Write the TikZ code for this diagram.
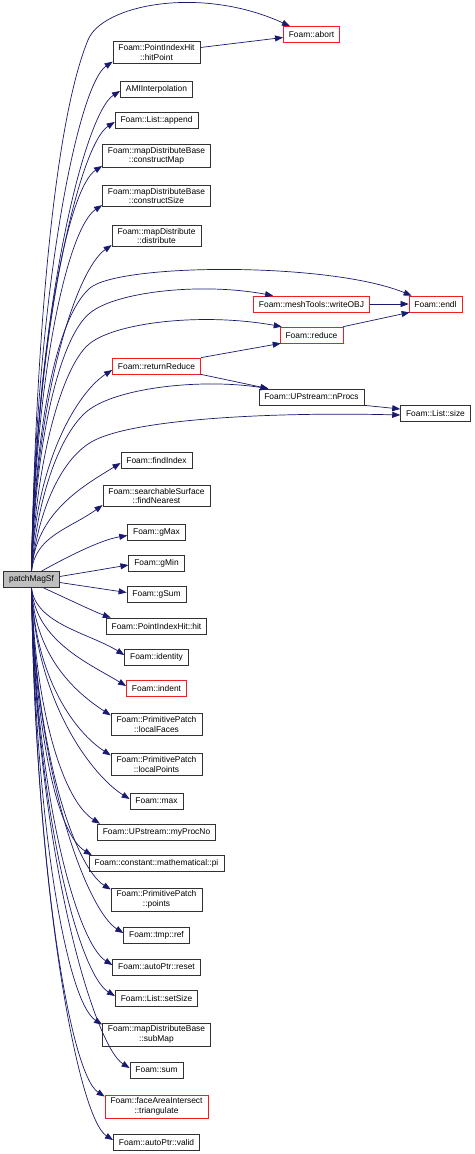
\documentclass[tikz,border=0pt]{standalone}
\usepackage{fontspec}
\setmainfont{Liberation Sans}
\usetikzlibrary{arrows.meta}
\definecolor{MB}{RGB}{25,25,112}
\definecolor{BR}{RGB}{240,30,30}
\definecolor{BK}{RGB}{50,50,50}
\definecolor{CG}{RGB}{191,191,191}

\begin{document}
\begin{tikzpicture}[
  x=1pt, y=-1pt,
  fn/.style={draw=#1, fill=white, line width=0.7pt,
             inner xsep=5.5pt, inner ysep=3pt, minimum height=16pt,
             align=center, font=\fontsize{8.4}{9.4}\selectfont},
  fn/.default=BK,
  arr/.style={-{Triangle[length=8pt,width=6pt]}, line width=0.7pt, draw=MB}
]
\useasboundingbox (0,0) rectangle (474,1154);

% Caller
\node[fn, fill=CG] (patch) at (31.5,579.5) {patchMagSf};

% Callees, first column
\node[fn]    (hitPoint)     at (156.5,52.5)  {Foam::PointIndexHit\\::hitPoint};
\node[fn]    (ami)          at (156.5,89)    {AMIInterpolation};
\node[fn]    (append)       at (156.5,120)   {Foam::List::append};
\node[fn]    (constructMap) at (156.5,156)   {Foam::mapDistributeBase\\::constructMap};
\node[fn]    (constructSize) at (156.5,196)  {Foam::mapDistributeBase\\::constructSize};
\node[fn]    (distribute)   at (156.5,236)   {Foam::mapDistribute\\::distribute};
\node[fn=BR] (returnReduce) at (156.5,366)   {Foam::returnReduce};
\node[fn]    (findIndex)    at (156.5,460)   {Foam::findIndex};
\node[fn]    (findNearest)  at (156.5,496)   {Foam::searchableSurface\\::findNearest};
\node[fn]    (gMax)         at (156.5,532.5) {Foam::gMax};
\node[fn]    (gMin)         at (156.5,563)   {Foam::gMin};
\node[fn]    (gSum)         at (156.5,594.5) {Foam::gSum};
\node[fn]    (hit)          at (156.5,626)   {Foam::PointIndexHit::hit};
\node[fn]    (identity)     at (156.5,657)   {Foam::identity};
\node[fn=BR] (indent)       at (156.5,688)   {Foam::indent};
\node[fn]    (localFaces)   at (156.5,724.5) {Foam::PrimitivePatch\\::localFaces};
\node[fn]    (localPoints)  at (156.5,764.5) {Foam::PrimitivePatch\\::localPoints};
\node[fn]    (max)          at (156.5,801)   {Foam::max};
\node[fn]    (myProcNo)     at (156.5,832)   {Foam::UPstream::myProcNo};
\node[fn]    (pi)           at (156.5,863.5) {Foam::constant::mathematical::pi};
\node[fn]    (points)       at (156.5,899.5) {Foam::PrimitivePatch\\::points};
\node[fn]    (ref)          at (156.5,935)   {Foam::tmp::ref};
\node[fn]    (reset)        at (156.5,967)   {Foam::autoPtr::reset};
\node[fn]    (setSize)      at (156.5,998)   {Foam::List::setSize};
\node[fn]    (subMap)       at (156.5,1034.5) {Foam::mapDistributeBase\\::subMap};
\node[fn]    (sum)          at (156.5,1070)  {Foam::sum};
\node[fn=BR] (triangulate)  at (156.5,1106.5) {Foam::faceAreaIntersect\\::triangulate};
\node[fn]    (valid)        at (156.5,1142)  {Foam::autoPtr::valid};

% Callees, further right
\node[fn=BR] (abort)    at (311.5,34.5) {Foam::abort};
\node[fn=BR] (writeOBJ) at (311.5,304)  {Foam::meshTools::writeOBJ};
\node[fn=BR] (reduce)   at (311.5,335)  {Foam::reduce};
\node[fn]    (nProcs)   at (311.5,397)  {Foam::UPstream::nProcs};
\node[fn=BR] (endl)     at (435.5,304)  {Foam::endl};
\node[fn]    (size)     at (435.5,413)  {Foam::List::size};

% Calls going up
\draw[arr] (patch.north) .. controls (36,330) and (55,120) .. (88,40)
  .. controls (102,5) and (200,-15) .. ([xshift=7pt]abort.north west);
\draw[arr] (patch.north) .. controls (35.5,292) and (78,85) .. ([yshift=2pt]hitPoint.south west);
\draw[arr] (patch.north) .. controls (35.5,307) and (85,113) .. ([yshift=-2pt]ami.west);
\draw[arr] (patch.north) .. controls (35.5,325) and (80,144) .. ([yshift=-2pt]append.west);
\draw[arr] (patch.north) .. controls (35.5,349) and (68,188) .. ([yshift=2pt]constructMap.south west);
\draw[arr] (patch.north) .. controls (35.5,371) and (68,228) .. ([yshift=2pt]constructSize.south west);
\draw[arr] (patch.north) .. controls (35.5,393) and (77,269) .. ([yshift=2pt]distribute.south west);
\draw[arr] (patch.north) .. controls (36,400) and (62,312) .. (90,288)
  .. controls (120,263) and (330,262) .. ([xshift=3pt]endl.north west);
\draw[arr] (patch.north) .. controls (36,430) and (62,335) .. (90,313)
  .. controls (115,292) and (200,282) .. ([xshift=20pt]writeOBJ.north west);
\draw[arr] (patch.north) .. controls (36,460) and (62,368) .. (88,345)
  .. controls (112,323) and (200,312) .. ([xshift=2pt]reduce.north west);
\draw[arr] (patch.north) .. controls (35.5,461) and (78,392) .. ([yshift=-4pt]returnReduce.west);
\draw[arr] (patch.north) .. controls (37,500) and (58,438) .. (85,413)
  .. controls (112,388) and (200,378) .. ([xshift=10pt]nProcs.north west);
\draw[arr] (patch.north) .. controls (38,510) and (62,456) .. (95,440)
  .. controls (140,418) and (280,412) .. ([yshift=-2pt]size.west);
\draw[arr] (patch.north) .. controls (35.5,512) and (85,485) .. ([yshift=-3pt]findIndex.west);
\draw[arr] (patch.north) .. controls (35.5,536) and (69,529) .. ([yshift=2pt]findNearest.south west);
\draw[arr] ([xshift=10pt]patch.north) .. controls (65,558) and (100,540) .. ([yshift=-3pt]gMax.west);
\draw[arr] ([yshift=3pt]patch.east) -- ([yshift=-2pt]gMin.west);

% Calls going down
\draw[arr] ([yshift=-3pt]patch.east) -- ([yshift=2pt]gSum.west);
\draw[arr] ([xshift=12pt]patch.south) .. controls (70,600) and (95,612) .. ([xshift=5pt]hit.north west);
\draw[arr] (patch.south) .. controls (35.5,624) and (89,633) .. ([yshift=2pt]identity.west);
\draw[arr] (patch.south) .. controls (35.5,641) and (90,664) .. ([yshift=2pt]indent.west);
\draw[arr] (patch.south) .. controls (35.5,657) and (75,692) .. ([yshift=-2pt]localFaces.north west);
\draw[arr] (patch.south) .. controls (35.5,679) and (75,732) .. ([yshift=-2pt]localPoints.north west);
\draw[arr] (patch.south) .. controls (35.5,704) and (94,777) .. ([yshift=2pt]max.west);
\draw[arr] (patch.south) .. controls (35.5,717) and (65,802) .. ([xshift=3pt]myProcNo.north west);
\draw[arr] (patch.south) .. controls (35.5,735) and (57,834) .. ([xshift=3pt]pi.north west);
\draw[arr] (patch.south) .. controls (35.5,753) and (75,867) .. ([yshift=-2pt]points.north west);
\draw[arr] (patch.south) .. controls (35.5,777) and (88,911) .. ([yshift=2pt]ref.west);
\draw[arr] (patch.south) .. controls (35.5,795) and (77,943) .. ([yshift=2pt]reset.west);
\draw[arr] (patch.south) .. controls (35.5,812) and (79,974) .. ([yshift=2pt]setSize.west);
\draw[arr] (patch.south) .. controls (35.5,827) and (67,1002) .. ([yshift=-2pt]subMap.north west);
\draw[arr] (patch.south) .. controls (35.5,851) and (94,1046) .. ([yshift=2pt]sum.west);
\draw[arr] (patch.south) .. controls (35.5,867) and (70,1074) .. ([yshift=-2pt]triangulate.north west);
\draw[arr] (patch.south) .. controls (35.5,891) and (78,1118) .. ([yshift=2pt]valid.west);

% Calls between callees
\draw[arr] ([yshift=5pt]hitPoint.east) -- ([yshift=-3pt]abort.west);
\draw[arr] (writeOBJ.east) -- (endl.west);
\draw[arr] (reduce.north east) -- ([xshift=1pt]endl.south west);
\draw[arr] (returnReduce.north east) -- ([xshift=1pt]reduce.south west);
\draw[arr] (returnReduce.south east) -- ([xshift=10pt]nProcs.north west);
\draw[arr] (nProcs.south east) -- ([yshift=4pt]size.west);
\end{tikzpicture}
\end{document}
